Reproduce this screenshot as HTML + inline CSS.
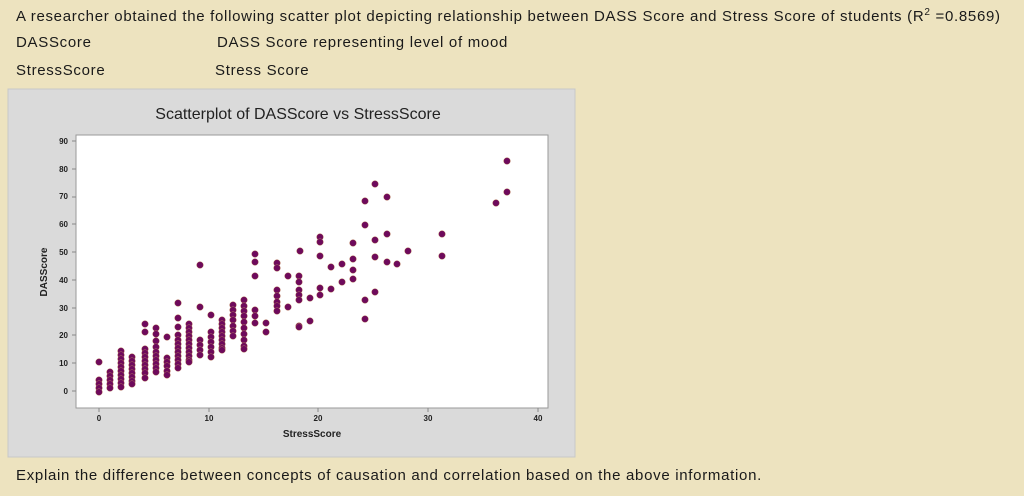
<!DOCTYPE html>
<html><head><meta charset="utf-8"><style>
body{margin:0;width:1024px;height:496px;background:#ede3bf;font-family:"Liberation Sans",sans-serif;color:#1a1a1a;position:relative;overflow:hidden}
.t{position:absolute;font-size:15px;letter-spacing:0.7px;white-space:nowrap}
</style></head><body>
<div class="t" style="left:16px;top:7px">A researcher obtained the following scatter plot depicting relationship between DASS Score and Stress Score of students (R<sup style="font-size:10px">2</sup> =0.8569)</div>
<div class="t" style="left:16px;top:34px">DASScore</div>
<div class="t" style="left:217px;top:34px">DASS Score representing level of mood</div>
<div class="t" style="left:16px;top:62px">StressScore</div>
<div class="t" style="left:215px;top:62px">Stress Score</div>
<div class="t" style="left:16px;top:467px">Explain the difference between concepts of causation and correlation based on the above information.</div>
<svg style="position:absolute;left:0;top:0" width="1024" height="496">
<rect x="8" y="89" width="567" height="368" fill="#dadada" stroke="#c8c8c8"/>
<rect x="76" y="135" width="472" height="273" fill="#fff" stroke="#999"/>
<text x="298" y="119" font-size="16" text-anchor="middle" fill="#222" font-family="Liberation Sans">Scatterplot of DASScore vs StressScore</text>
<g font-size="8" font-weight="bold" fill="#222" text-anchor="end" font-family="Liberation Sans">
<text x="68" y="144">90</text><text x="68" y="172">80</text><text x="68" y="199">70</text><text x="68" y="227">60</text><text x="68" y="255">50</text><text x="68" y="283">40</text><text x="68" y="311">30</text><text x="68" y="338">20</text><text x="68" y="366">10</text><text x="68" y="394">0</text>
</g>
<g stroke="#888"><path d="M72 141h4M72 169h4M72 197h4M72 224h4M72 252h4M72 280h4M72 308h4M72 335h4M72 363h4M72 391h4M99 408v4M209 408v4M318 408v4M428 408v4M538 408v4"/></g>
<g font-size="8" font-weight="bold" fill="#222" text-anchor="middle" font-family="Liberation Sans">
<text x="99" y="421">0</text><text x="209" y="421">10</text><text x="318" y="421">20</text><text x="428" y="421">30</text><text x="538" y="421">40</text>
</g>
<text x="312" y="437" font-size="10" font-weight="bold" text-anchor="middle" fill="#222">StressScore</text>
<text transform="translate(47 272) rotate(-90)" font-size="10" font-weight="bold" text-anchor="middle" fill="#222">DASScore</text>
<g id="pts" fill="#6e0a5c" stroke="#b0705a" stroke-width="0.5"></g>
</svg>
<script>
var cols={99:[362,380,384,388,392],110:[372,376,380,384,388],121:[351,355,359,363,367,371,375,379,383,387],132:[357,361,365,369,373,377,381,384],145:[324,332,349,353,357,361,365,369,373,378],156:[328,334,341,347,352,356,360,364,368,372],167:[337,358,362,366,371,375],178:[303,318,327,335,340,344,348,352,356,360,364,368],189:[324,328,332,336,340,344,348,352,356,360,362],200:[265,307,340,345,350,355],211:[315,332,337,342,347,352,357],222:[320,324,328,332,336,340,344,348,350],233:[305,310,315,320,326,331,336],244:[300,306,311,316,322,328,334,340,346,349],255:[254,262,276,310,316,323],266:[323,332],277:[263,268,290,296,302,306,311],288:[276,307],299:[276,282,290,295,300,326,327],300:[251],310:[298,321],320:[237,242,256,288,295],331:[267,289],342:[264,282],353:[243,259,270,279],365:[300,319,225,201],375:[184,240,257,292],387:[197,234,262],397:[264],408:[251],442:[234,256],496:[203],507:[161,192]};
var s='';for(var x in cols)cols[x].forEach(function(y){s+='<circle cx="'+x+'" cy="'+y+'" r="3.3"/>';});
document.getElementById('pts').innerHTML=s;
</script>
</body></html>
